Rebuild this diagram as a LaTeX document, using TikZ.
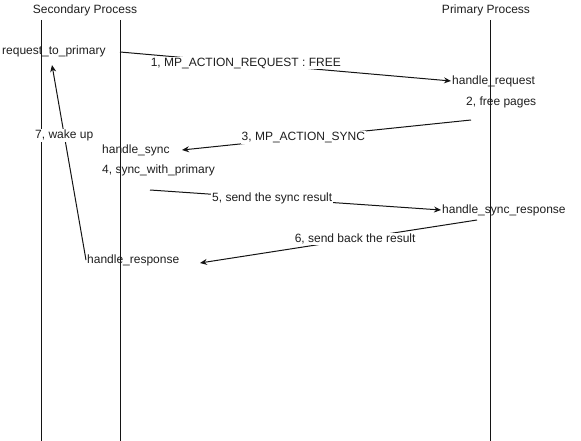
\documentclass[tikz,border=0pt]{standalone}
\usepackage{fontspec}
\setmainfont{Liberation Sans}
\usetikzlibrary{arrows.meta}
\definecolor{inkline}{RGB}{20,20,20}
\definecolor{inktext}{RGB}{30,30,30}

\begin{document}
\begin{tikzpicture}[x=1pt, y=-1pt, font=\fontsize{12}{14}\selectfont, text=inktext,
  >={Stealth[length=7pt, width=6pt]},
  lifeline/.style={draw=inkline, line width=1pt},
  step label/.style={anchor=west, inner sep=1pt},
  msg/.style={->, draw=inkline, line width=1pt},
  msg label/.style={fill=white, inner sep=1pt}]
  \useasboundingbox (0,0) rectangle (581,441);
  % process titles and lifelines
  \node (sectitle) at (85,10) {Secondary Process};
  \node (prititle) at (486,10) {Primary Process};
  \coordinate (secA) at (41,20);
  \coordinate (secB) at (120,20);
  \coordinate (pri) at (490,20);
  \draw[lifeline] (secA) -- (secA |- 0,441);
  \draw[lifeline] (secB) -- (secB |- 0,441);
  \draw[lifeline] (pri) -- (pri |- 0,441);
  % steps on the secondary side
  \node[step label] (reqprim) at (1,51) {request\_to\_primary};
  \node[step label] (hsync) at (101,150) {handle\_sync};
  \node[step label] (syncprim) at (101,170) {4, sync\_with\_primary};
  \node[step label] (hresp) at (86,260) {handle\_response};
  % steps on the primary side
  \node[step label] (hreq) at (451,81) {handle\_request};
  \node[step label] (freepg) at (465,102) {2, free pages};
  \node[step label] (hsyncresp) at (441,210) {handle\_sync\_response};
  % free ends of the messages
  \coordinate (req out) at (120,52);
  \coordinate (sync out) at (471,120);
  \coordinate (sync in) at (182,150);
  \coordinate (res out) at (150,190);
  \coordinate (back out) at (477,220);
  \coordinate (back in) at (200,263);
  \coordinate (wake in) at (52,65);
  % messages
  \draw[msg] (req out) -- node[msg label, pos=0.38] {1, MP\_ACTION\_REQUEST : FREE} (hreq.west);
  \draw[msg] (sync out) -- node[msg label, pos=0.58] {3, MP\_ACTION\_SYNC} (sync in);
  \draw[msg] (res out) -- node[msg label, pos=0.42] {5, send the sync result} (hsyncresp.west);
  \draw[msg] (back out) -- node[msg label, pos=0.44] {6, send back the result} (back in);
  \draw[msg] (hresp.west) -- node[msg label, pos=0.64] {7, wake up} (wake in);
\end{tikzpicture}
\end{document}
